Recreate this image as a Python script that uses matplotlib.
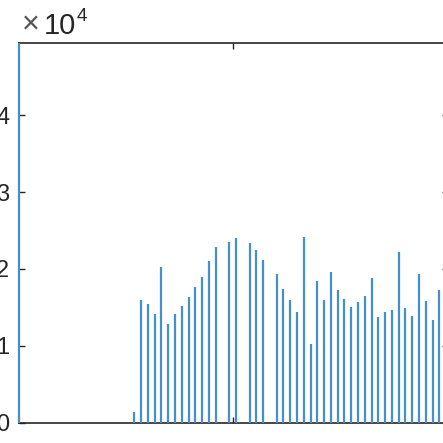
import matplotlib
matplotlib.use("Agg")
import matplotlib.pyplot as plt
import matplotlib.patches as mpatches
import numpy as np

# daily counts (x 1e4); the first value runs off the top of the axes
day = list(range(63))
count = [5.5] + [0.0] * 16 + [
    0.14, 1.60, 1.54, 1.41, 2.03, 1.28, 1.41, 1.52, 1.64, 1.77,
    1.90, 2.10, 2.28, 0.0, 2.35, 2.40, 0.0, 2.34, 2.25, 2.12,
    0.0, 1.94, 1.74, 1.60, 1.44, 2.42, 1.02, 1.84, 1.59, 1.96,
    1.72, 1.61, 1.50, 1.57, 1.65, 1.88, 1.37, 1.44, 1.47, 2.22,
    1.49, 1.39, 1.93, 1.58, 1.34, 1.73,
]
ytick_values = [0, 1, 2, 3, 4]
ytick_labels = ["0", "1", "2", "3", "4"]
xtick_values = [31.5]

W = 443
fig = plt.figure(figsize=(4.43, 4.43), dpi=100)
ax = fig.add_axes([19 / W, 20.3 / W, 428.5 / W, 379.7 / W])

stems = ax.vlines(day, 0, np.array(count) * 1e4, color="#4590cc", linewidth=1.6,
                  capstyle="butt", zorder=3)
# let the stem sitting on the left edge show at full width
clip = mpatches.Rectangle((-0.01, 0), 1.02, 1, transform=ax.transAxes,
                          facecolor="none", edgecolor="none")
stems.set_clip_path(clip)

ax.set_xlim(0, 63.2)
ax.set_ylim(0, 4.94e4)
ax.set_yticks([v * 1e4 for v in ytick_values])
ax.set_yticklabels(ytick_labels)
ax.set_xticks(xtick_values)
ax.set_xticklabels([])

axis_color = "#262626"
for s in ax.spines.values():
    s.set_color(axis_color)
    s.set_linewidth(1.2)
ax.tick_params(direction="in", length=4.5, width=1.0, color=axis_color,
               labelcolor=axis_color, top=True, right=True, labelsize=17, pad=7)
for lab in ax.get_yticklabels():
    lab.set_family("Liberation Sans")

fig.text(21.5 / W, 1 - 33.5 / W, "\u00d7", fontsize=22, family="Liberation Sans",
         color="#555555", va="baseline", ha="left")
fig.text(44 / W, 1 - 34.3 / W, "10", fontsize=21, family="Liberation Sans",
         color=axis_color, va="baseline", ha="left")
fig.text(77 / W, 1 - 20.7 / W, "4", fontsize=13.5, family="Liberation Sans",
         color=axis_color, va="baseline", ha="left")

fig.savefig("out.png", dpi=100)
